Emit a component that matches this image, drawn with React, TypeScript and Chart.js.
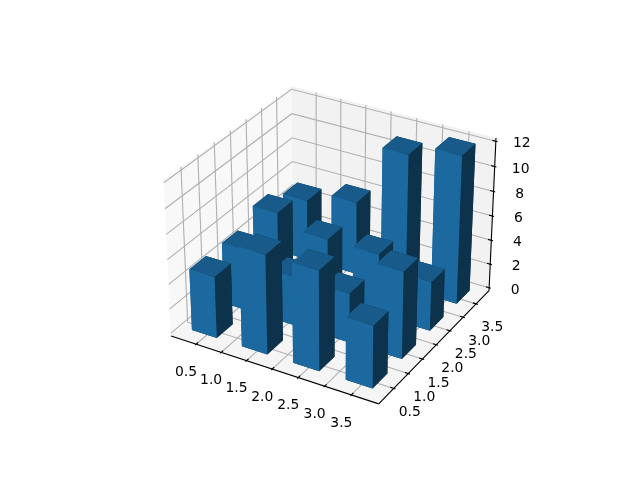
import { useRef, useEffect } from 'react';
import { Chart, registerables } from 'chart.js';

Chart.register(...registerables);

const xStarts = [0.25, 1.25, 2.25, 3.25];
const yStarts = [0.25, 1.25, 2.25, 3.25];
const barSize = 0.5;
// bar heights, one row per x bin, one value per y bin
const heightsX0 = [5, 5, 6, 5];
const heightsX1 = [8, 4, 5, 6];
const heightsX2 = [8, 4, 5, 11];
const heightsX3 = [5, 7, 4, 12];
const heights = [heightsX0, heightsX1, heightsX2, heightsX3];

const xTicks = [0.5, 1, 1.5, 2, 2.5, 3, 3.5];
const yTicks = [0.5, 1, 1.5, 2, 2.5, 3, 3.5];
const zTicks = [0, 2, 4, 6, 8, 10, 12];

const xLim = [0.075, 3.925];
const yLim = [0.075, 3.925];
const zLim = [0, 12];

const BAR_RGB = [31, 119, 180];
const DIST = 10;
const ELEV = (30 * Math.PI) / 180;
const AZIM = (-60 * Math.PI) / 180;
const ASPECT = [4, 4, 3].map(v => (v * 1.8294640721620434) / Math.sqrt(41));

// pane edges sit a 48th of the range outside the axis limits
const pad = (lim: number[]) => [lim[0] - (lim[1] - lim[0]) / 48, lim[1] + (lim[1] - lim[0]) / 48];
const xPane = pad(xLim);
const yPane = pad(yLim);
const zPane = pad(zLim);

type V3 = number[];
const dot = (a: V3, b: V3) => a[0] * b[0] + a[1] * b[1] + a[2] * b[2];
const cross = (a: V3, b: V3) => [a[1] * b[2] - a[2] * b[1], a[2] * b[0] - a[0] * b[2], a[0] * b[1] - a[1] * b[0]];
const unit = (a: V3) => a.map(v => v / Math.sqrt(dot(a, a)));

const viewDir = [Math.cos(ELEV) * Math.cos(AZIM), Math.cos(ELEV) * Math.sin(AZIM), Math.sin(ELEV)];
const eye = ASPECT.map((v, i) => v / 2 + DIST * viewDir[i]);
const w = unit(viewDir);
const u = unit(cross([0, 0, 1], w));
const v = cross(w, u);

function project(x: number, y: number, z: number) {
  const world = [
    ((x - xLim[0]) / (xLim[1] - xLim[0])) * ASPECT[0],
    ((y - yLim[0]) / (yLim[1] - yLim[0])) * ASPECT[1],
    ((z - zLim[0]) / (zLim[1] - zLim[0])) * ASPECT[2],
  ];
  const d = world.map((c, i) => c - eye[i]);
  const depth = -dot(w, d);
  return { x: dot(u, d) / depth, y: dot(v, d) / depth, depth };
}

const path = (pts: number[][]) => pts.map(p => {
  const q = project(p[0], p[1], p[2]);
  return { x: q.x, y: q.y };
});

const shade = (normal: V3) => {
  const s = dot(normal, [-2 / 3, -2 / 3, 1 / 3]);
  const f = 0.3 + 0.7 * ((s + 1) / 2);
  return `rgb(${BAR_RGB.map(c => c * f).join(',')})`;
};

const polygon = (pts: number[][], color: string) => ({
  data: path([...pts, pts[0]]),
  fill: 'shape',
  backgroundColor: color,
  borderWidth: 0,
});
const stroke = (pts: number[][], color: string, width = 1.11) => ({
  data: path(pts),
  fill: false,
  borderColor: color,
  borderWidth: width,
});

function barFaces() {
  const faces: { zsort: number; ds: any }[] = [];
  xStarts.forEach((x0, i) => {
    yStarts.forEach((y0, j) => {
      const x1 = x0 + barSize;
      const y1 = y0 + barSize;
      const h = heights[i][j];
      const list: [number[][], V3][] = [
        [[[x0, y0, 0], [x1, y0, 0], [x1, y1, 0], [x0, y1, 0]], [0, 0, -1]],
        [[[x0, y0, h], [x1, y0, h], [x1, y1, h], [x0, y1, h]], [0, 0, 1]],
        [[[x0, y0, 0], [x1, y0, 0], [x1, y0, h], [x0, y0, h]], [0, -1, 0]],
        [[[x0, y1, 0], [x1, y1, 0], [x1, y1, h], [x0, y1, h]], [0, 1, 0]],
        [[[x0, y0, 0], [x0, y1, 0], [x0, y1, h], [x0, y0, h]], [-1, 0, 0]],
        [[[x1, y0, 0], [x1, y1, 0], [x1, y1, h], [x1, y0, h]], [1, 0, 0]],
      ];
      list.forEach(([pts, n]) => {
        // same sort key as the painter's sort: average of -dist/depth
        const zsort = pts.reduce((a, p) => a - DIST / project(p[0], p[1], p[2]).depth, 0) / 4;
        faces.push({ zsort, ds: polygon(pts, shade(n)) });
      });
    });
  });
  return faces.sort((a, b) => b.zsort - a.zsort).map(f => f.ds);
}

function buildDatasets() {
  const [xa, xb] = xPane;
  const [ya, yb] = yPane;
  const [za, zb] = zPane;
  const GRID = '#b0b0b0';
  const ds: any[] = [
    polygon([[xa, ya, za], [xa, yb, za], [xa, yb, zb], [xa, ya, zb]], 'rgba(242,242,242,0.5)'),
    polygon([[xa, yb, za], [xb, yb, za], [xb, yb, zb], [xa, yb, zb]], 'rgba(230,230,230,0.5)'),
    polygon([[xa, ya, za], [xb, ya, za], [xb, yb, za], [xa, yb, za]], 'rgba(236,236,236,0.5)'),
  ];
  xTicks.forEach(t => ds.push(stroke([[t, ya, za], [t, yb, za], [t, yb, zb]], GRID)));
  yTicks.forEach(t => ds.push(stroke([[xb, t, za], [xa, t, za], [xa, t, zb]], GRID)));
  zTicks.forEach(t => ds.push(stroke([[xa, ya, t], [xa, yb, t], [xb, yb, t]], GRID)));
  ds.push(stroke([[xa, ya, za], [xb, ya, za]], '#000'));
  ds.push(stroke([[xb, ya, za], [xb, yb, za]], '#000'));
  ds.push(stroke([[xb, yb, za], [xb, yb, zb]], '#000'));
  const dx = (xLim[1] - xLim[0]) / 12;
  const dy = (yLim[1] - yLim[0]) / 12;
  xTicks.forEach(t => ds.push(stroke([[t, ya + 0.2 * dy, za], [t, ya - 0.1 * dy, za]], '#000')));
  yTicks.forEach(t => ds.push(stroke([[xb - 0.2 * dx, t, za], [xb + 0.1 * dx, t, za]], '#000')));
  zTicks.forEach(t => ds.push(stroke([[xb - 0.2 * dx, yb, t], [xb + 0.1 * dx, yb, t]], '#000')));
  ds.push(...barFaces());
  // Chart.js paints the first dataset last
  return ds.map(d => ({ ...d, pointRadius: 0, showLine: true, clip: false })).reverse();
}

const tickLabels = {
  id: 'tickLabels',
  afterDraw(chart: Chart) {
    const { ctx, scales } = chart;
    const put = (text: string, p: { x: number; y: number }, ox: number, oy: number) => {
      ctx.fillText(text, scales.x.getPixelForValue(p.x) + ox, scales.y.getPixelForValue(p.y) + oy);
    };
    ctx.save();
    ctx.font = '13.9px "DejaVu Sans"';
    ctx.fillStyle = '#000';
    ctx.textAlign = 'center';
    ctx.textBaseline = 'middle';
    xTicks.forEach(t => put(t.toFixed(1), project(t, yPane[0], zPane[0]), -10, 28));
    yTicks.forEach(t => put(t.toFixed(1), project(xPane[1], t, zPane[0]), 16, 24));
    zTicks.forEach(t => put(String(t), project(xPane[1], yPane[1], t), 26, 2.5));
    ctx.restore();
  },
};

// 3d axes box inside a 640x480 figure, in pixels per view unit
const k = 0.185 / 369.6;
const viewX = -0.095 - 143.2 * k;
const viewY = -0.095 - 52.8 * k;

export default function App() {
  const canvasRef = useRef<HTMLCanvasElement>(null);

  useEffect(() => {
    document.body.style.margin = '0';
    const chart = new Chart(canvasRef.current!, {
      type: 'scatter',
      data: { datasets: buildDatasets() },
      options: {
        animation: false,
        responsive: false,
        devicePixelRatio: 1,
        plugins: { legend: { display: false }, tooltip: { enabled: false } },
        scales: {
          x: { type: 'linear', display: false, min: viewX, max: viewX + 640 * k },
          y: { type: 'linear', display: false, min: viewY, max: viewY + 480 * k },
        },
      },
      plugins: [tickLabels],
    } as any);
    return () => chart.destroy();
  }, []);

  return <canvas ref={canvasRef} width={640} height={480} style={{ display: 'block' }} />;
}
